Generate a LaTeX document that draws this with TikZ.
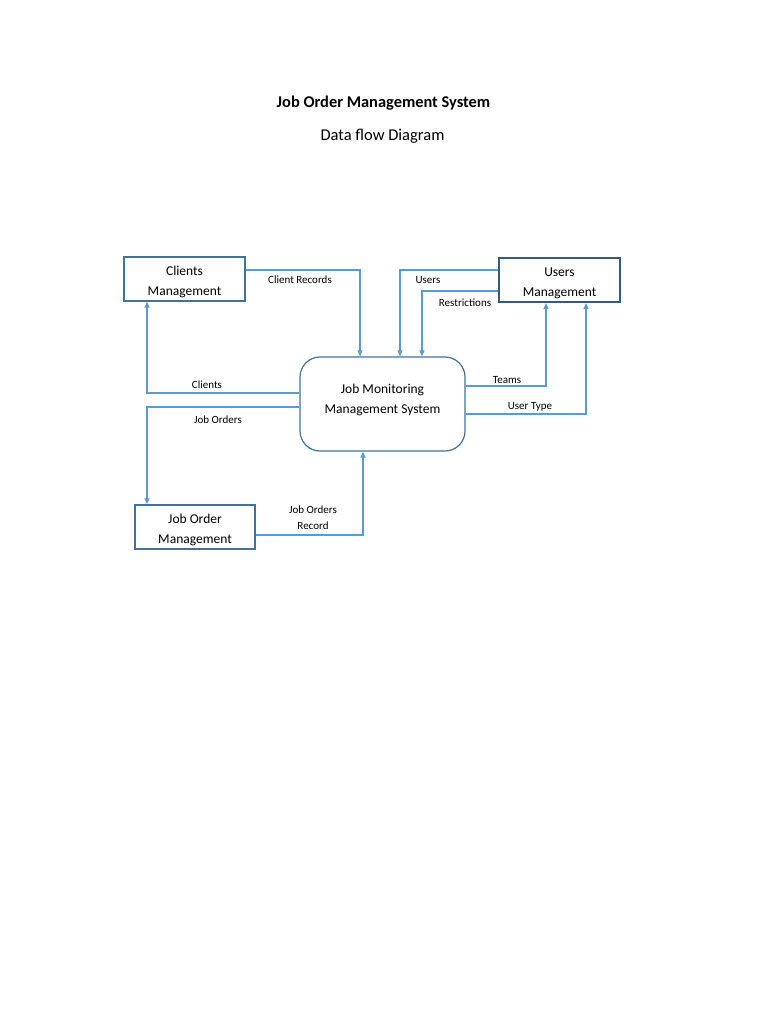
\documentclass[tikz,border=0pt]{standalone}
\usepackage{fontspec}
\setmainfont{Carlito}
\usetikzlibrary{arrows.meta}
\definecolor{boxline}{HTML}{41719C}
\definecolor{flowline}{HTML}{5B9BD5}
\newcommand{\boxtext}[2]{\raisebox{#1}[0pt][0pt]{\begin{tabular}{@{}c@{}}#2\end{tabular}}}
\begin{document}
\begin{tikzpicture}[x=1pt,y=-1pt,
      every node/.style={
        text=black,
        inner sep=0pt
      },
      entity/.style={
        rectangle,
        draw=boxline,
        line width=1.2pt,
        minimum width=121pt,
        minimum height=44pt,
        font=\fontsize{13.5}{20}\selectfont  % box labels
      },
      process/.style={
        entity,
        rounded corners=20pt,
        minimum width=165pt,
        minimum height=94pt
      },
      flow/.style={
        draw=flowline,
        line width=1.2pt,
        -{Triangle[length=6pt,width=5pt]}
      },
      flowlabel/.style={
        font=\fontsize{11}{16}\selectfont
      }]
      \useasboundingbox (0,0) rectangle (768,1024);

      % titles
      \node[font=\bfseries\fontsize{16.4}{20}\selectfont] (title) at (383.5,103) {Job Order Management System};
      \node[font=\fontsize{16.5}{20}\selectfont] (subtitle) at (382.5,136) {Data flow Diagram};

      % entities
      \node[entity] (cm) at (184.5,279) {\boxtext{-6.4pt}{Clients\\Management}};
      \node[entity, line width=2pt, draw=boxline!80!black] (um) at (559.5,280) {\boxtext{-5.9pt}{Users\\Management}};
      \node[entity, minimum width=120pt] (jom) at (195,527) {\boxtext{-5.6pt}{Job Order\\Management}};
      \node[process] (jms) at (382.5,404) {\boxtext{0.6pt}{Job Monitoring\\Management System}};

      % flows
      \draw[flow] ([yshift=9pt]cm.east) -| ([xshift=-22.5pt]jms.north);
      \draw[flow] ([yshift=11pt]jms.west) -| ([xshift=-37.5pt]cm.south);
      \draw[flow] ([yshift=-3pt]jms.west) -| ([xshift=-48pt]jom.north);
      \draw[flow] ([yshift=-8pt]jom.east) -| ([xshift=-19.5pt]jms.south);
      \draw[flow] ([yshift=10pt]um.west) -| ([xshift=17.5pt]jms.north);
      \draw[flow] ([yshift=-11pt]um.west) -| ([xshift=39.5pt]jms.north);
      \draw[flow] ([yshift=18pt]jms.east) -| ([xshift=-13.5pt]um.south);
      \draw[flow] ([yshift=-10pt]jms.east) -| ([xshift=26.5pt]um.south);

      % flow labels
      \node[flowlabel] (lrec) at (300,280) {Client Records};
      \node[flowlabel] (lcli) at (207,385) {Clients};
      \node[flowlabel] (ljo) at (218,420) {Job Orders};
      \node[flowlabel, align=center] (ljor) at (313,518) {Job Orders\\Record};
      \node[flowlabel] (lusr) at (428,280) {Users};
      \node[flowlabel] (lres) at (465,303) {Restrictions};
      \node[flowlabel] (ltea) at (507,380) {Teams};
      \node[flowlabel] (ltyp) at (530,407) {User Type};
    \end{tikzpicture}
\end{document}
